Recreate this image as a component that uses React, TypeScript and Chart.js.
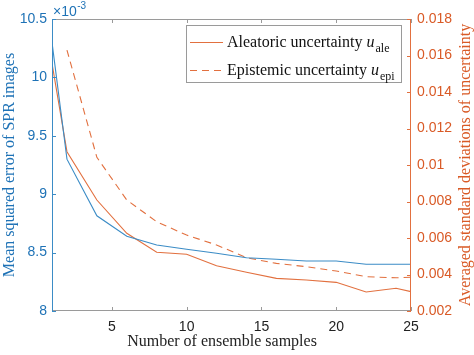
import React, { useEffect, useRef } from "react";
import { Chart, registerables } from "chart.js";

Chart.register(...registerables);

const samples = [1, 2, 4, 6, 8, 10, 12, 14, 16, 18, 20, 22, 24, 25];
const mseValues = [10.3, 9.3, 8.815, 8.64, 8.565, 8.528, 8.494, 8.456, 8.443, 8.428, 8.428, 8.4, 8.4, 8.4];
const aleatoricValues = [0.01557, 0.01073, 0.00808, 0.00626, 0.00522, 0.00511, 0.00448, 0.00412, 0.00379, 0.0037, 0.00357, 0.00304, 0.00325, 0.00306];
const epistemicValues = [null, 0.0163, 0.01042, 0.00808, 0.00689, 0.00616, 0.00562, 0.00492, 0.00461, 0.00443, 0.00419, 0.00388, 0.00382, 0.00385];

const xTicks = [5, 10, 15, 20, 25];
const leftTicks = [8, 8.5, 9, 9.5, 10, 10.5];
const leftTickLabels = ["8", "8.5", "9", "9.5", "10", "10.5"];
const rightTicks = [0.002, 0.004, 0.006, 0.008, 0.01, 0.012, 0.014, 0.016, 0.018];
const rightTickLabels = ["0.002", "0.004", "0.006", "0.008", "0.01", "0.012", "0.014", "0.016", "0.018"];

const xTitle = "Number of ensemble samples";
const leftTitle = "Mean squared error of SPR images";
const rightTitle = "Averaged standard deviations of uncertainty";
const legendLabels = ["Aleatoric uncertainty ", "Epistemic uncertainty "];
const legendSubs = ["ale", "epi"];

const BLUE_LINE = "#3b8cc6";
const BLUE_TEXT = "#1e72b6";
const ORANGE_LINE = "#e2703f";
const ORANGE_TEXT = "#d95a26";
const FRAME = "#9a9a9a";
const SANS = "'Liberation Sans', Arial, sans-serif";
const SERIF = "'Liberation Serif', 'Times New Roman', serif";
const DASH = [7, 5];

const W = 474;
const H = 355;

const decorPlugin = {
  id: "decor",
  afterDraw(chart: any) {
    const ctx = chart.ctx;
    const a = chart.chartArea;
    const xs = chart.scales.x;
    const yl = chart.scales.yl;
    const yr = chart.scales.yr;
    ctx.save();
    // frame
    ctx.lineWidth = 1;
    ctx.strokeStyle = FRAME;
    ctx.beginPath();
    ctx.moveTo(a.left, a.top + 0.5);
    ctx.lineTo(a.right, a.top + 0.5);
    ctx.moveTo(a.left, a.bottom - 0.5);
    ctx.lineTo(a.right, a.bottom - 0.5);
    ctx.stroke();
    // x ticks (inward, top and bottom)
    const tl = 4;
    ctx.beginPath();
    xTicks.forEach((v) => {
      const px = Math.round(xs.getPixelForValue(v)) + 0.5;
      ctx.moveTo(px, a.bottom);
      ctx.lineTo(px, a.bottom - tl);
      ctx.moveTo(px, a.top);
      ctx.lineTo(px, a.top + tl);
    });
    ctx.stroke();
    // left axis
    ctx.strokeStyle = BLUE_LINE;
    ctx.beginPath();
    ctx.moveTo(a.left + 0.5, a.top);
    ctx.lineTo(a.left + 0.5, a.bottom);
    leftTicks.forEach((v) => {
      const py = Math.round(yl.getPixelForValue(v)) + 0.5;
      ctx.moveTo(a.left, py);
      ctx.lineTo(a.left + tl, py);
    });
    ctx.stroke();
    // right axis
    ctx.strokeStyle = ORANGE_LINE;
    ctx.beginPath();
    ctx.moveTo(a.right - 0.5, a.top);
    ctx.lineTo(a.right - 0.5, a.bottom);
    rightTicks.forEach((v) => {
      const py = Math.round(yr.getPixelForValue(v)) + 0.5;
      ctx.moveTo(a.right, py);
      ctx.lineTo(a.right - tl, py);
    });
    ctx.stroke();

    // exponent label
    ctx.fillStyle = BLUE_TEXT;
    ctx.textBaseline = "alphabetic";
    ctx.textAlign = "left";
    ctx.font = `14px ${SANS}`;
    ctx.fillText("\u00d710", 53, 16);
    const w10 = ctx.measureText("\u00d710").width;
    ctx.font = `10px ${SANS}`;
    ctx.fillText("-3", 53 + w10 + 0.5, 9);

    // axis titles
    ctx.font = `16px ${SERIF}`;
    ctx.textAlign = "center";
    ctx.textBaseline = "middle";
    ctx.fillStyle = "#222";
    ctx.fillText(xTitle, 222, 342);
    const cy = (a.top + a.bottom) / 2;
    ctx.save();
    ctx.translate(10, cy);
    ctx.rotate(-Math.PI / 2);
    ctx.fillStyle = BLUE_TEXT;
    ctx.fillText(leftTitle, 0, 0);
    ctx.restore();
    ctx.save();
    ctx.translate(466, cy);
    ctx.rotate(-Math.PI / 2);
    ctx.fillStyle = ORANGE_TEXT;
    ctx.fillText(rightTitle, 0, 0);
    ctx.restore();

    // legend
    const bx = 186.5, by = 25.5, bw = 215, bh = 57;
    ctx.fillStyle = "#ffffff";
    ctx.fillRect(bx, by, bw, bh);
    ctx.strokeStyle = FRAME;
    ctx.lineWidth = 1;
    ctx.strokeRect(bx, by, bw, bh);
    const rows = [42, 70];
    rows.forEach((ry, i) => {
      ctx.strokeStyle = ORANGE_LINE;
      ctx.lineWidth = 1;
      ctx.setLineDash(i === 0 ? [] : DASH);
      ctx.beginPath();
      ctx.moveTo(190, ry + 0.5);
      ctx.lineTo(223, ry + 0.5);
      ctx.stroke();
      ctx.setLineDash([]);
      ctx.fillStyle = "#111";
      ctx.textAlign = "left";
      ctx.textBaseline = "alphabetic";
      ctx.font = `16px ${SERIF}`;
      const base = ry + 5;
      ctx.fillText(legendLabels[i], 227, base);
      let x = 227 + ctx.measureText(legendLabels[i]).width;
      ctx.font = `italic 16px ${SERIF}`;
      ctx.fillText("u", x, base);
      x += ctx.measureText("u").width + 1;
      ctx.font = `12px ${SERIF}`;
      ctx.fillText(legendSubs[i], x, base + 5);
    });
    ctx.restore();
  },
};

export default function App() {
  const ref = useRef<HTMLCanvasElement | null>(null);
  useEffect(() => {
    document.body.style.margin = "0";
    const canvas = ref.current;
    if (!canvas) return;
    const chart = new Chart(canvas, {
      type: "line",
      data: {
        datasets: [
          {
            label: "MSE",
            data: samples.map((x, i) => ({ x, y: mseValues[i] })),
            borderColor: BLUE_LINE,
            borderWidth: 1.1,
            pointRadius: 0,
            yAxisID: "yl",
            tension: 0,
          },
          {
            label: "Aleatoric uncertainty",
            data: samples.map((x, i) => ({ x, y: aleatoricValues[i] })),
            borderColor: ORANGE_LINE,
            borderWidth: 1.1,
            pointRadius: 0,
            yAxisID: "yr",
            tension: 0,
          },
          {
            label: "Epistemic uncertainty",
            data: samples.map((x, i) => ({ x, y: epistemicValues[i] as any })),
            borderColor: ORANGE_LINE,
            borderWidth: 1.1,
            borderDash: DASH,
            pointRadius: 0,
            yAxisID: "yr",
            tension: 0,
          },
        ],
      },
      options: {
        animation: false,
        responsive: false,
        devicePixelRatio: 1,
        layout: { padding: { top: 19, left: 0, right: 0, bottom: 0 } },
        plugins: { legend: { display: false }, tooltip: { enabled: false } },
        scales: {
          x: {
            type: "linear",
            min: 1,
            max: 25,
            grid: { display: false, drawTicks: false },
            border: { display: false },
            afterBuildTicks: (s: any) => {
              s.ticks = xTicks.map((v) => ({ value: v }));
            },
            afterFit: (s: any) => {
              s.height = 44;
            },
            ticks: {
              color: "#222",
              font: { family: SANS, size: 14 },
              padding: 8,
              maxRotation: 0,
              callback: (v: any) => String(v),
            },
          },
          yl: {
            type: "linear",
            position: "left",
            min: 8,
            max: 10.5,
            grid: { display: false, drawTicks: false },
            border: { display: false },
            afterBuildTicks: (s: any) => {
              s.ticks = leftTicks.map((v) => ({ value: v }));
            },
            afterFit: (s: any) => {
              s.width = 52;
            },
            ticks: {
              color: BLUE_TEXT,
              font: { family: SANS, size: 14 },
              padding: 5,
              callback: (v: any) => leftTickLabels[leftTicks.indexOf(Number(v))] ?? String(v),
            },
          },
          yr: {
            type: "linear",
            position: "right",
            min: 0.002,
            max: 0.018,
            grid: { display: false, drawTicks: false },
            border: { display: false },
            afterBuildTicks: (s: any) => {
              s.ticks = rightTicks.map((v) => ({ value: v }));
            },
            afterFit: (s: any) => {
              s.width = 63;
            },
            ticks: {
              color: ORANGE_TEXT,
              font: { family: SANS, size: 14 },
              padding: 6,
              callback: (v: any) => {
                const idx = rightTicks.findIndex((t) => Math.abs(t - Number(v)) < 1e-9);
                return idx >= 0 ? rightTickLabels[idx] : String(v);
              },
            },
          },
        },
      },
      plugins: [decorPlugin],
    });
    return () => chart.destroy();
  }, []);
  return (
    <div style={{ position: "relative", width: W, height: H }}>
      <canvas ref={ref} width={W} height={H} style={{ display: "block", width: W, height: H }} />
    </div>
  );
}
